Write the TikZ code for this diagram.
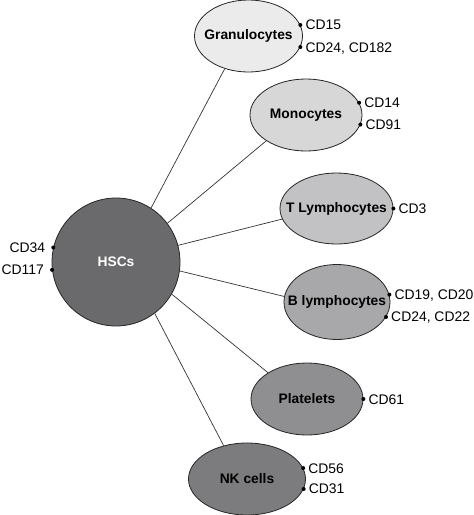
\documentclass[tikz,border=0pt]{standalone}
\usepackage{fontspec}
\setmainfont{Liberation Sans}
\usetikzlibrary{shapes.geometric}
\definecolor{cGran}{HTML}{EBEBEB}
\definecolor{cMono}{HTML}{D7D7D8}
\definecolor{cT}{HTML}{C2C2C4}
\definecolor{cB}{HTML}{A8A8AA}
\definecolor{cPlt}{HTML}{8F8F91}
\definecolor{cNK}{HTML}{7C7C7E}
\definecolor{cHSC}{HTML}{6A6A6C}
\begin{document}
\begin{tikzpicture}[x=1pt,y=-1pt,
  cell/.style={ellipse, draw=black!85, line width=0.8pt, inner sep=0pt},
  celltext/.style={font=\fontsize{13.8}{15}\selectfont\bfseries, text=black, inner sep=0pt},
  dot/.style={circle, fill=black, inner sep=0pt, minimum size=4pt},
  lbl/.style={font=\fontsize{13.9}{15}\selectfont, inner sep=0pt, anchor=base west, text=black},
  lbll/.style={lbl, anchor=base east},
  link/.style={draw=black!80, line width=0.7pt}]
\useasboundingbox (0,0) rectangle (474,515);

% HSC
\node[circle, draw=black!85, line width=0.8pt, fill=cHSC, minimum size=128pt, inner sep=0pt,
      label={[celltext, text=white]center:HSCs}] (hsc) at (116,262) {};

% cells
\node[cell, fill=cGran, minimum width=108pt, minimum height=72pt,
      label={[celltext]center:Granulocytes}] (gran) at (248.5,36) {};
\node[cell, fill=cMono, minimum width=112pt, minimum height=72pt,
      label={[celltext]center:Monocytes}] (mono) at (306,115) {};
\node[cell, fill=cT, minimum width=113pt, minimum height=71pt,
      label={[celltext]center:T Lymphocytes}] (tly) at (336.5,208.5) {};
\node[cell, fill=cB, minimum width=106pt, minimum height=75pt,
      label={[celltext]center:B lymphocytes}] (bly) at (337,302) {};
\node[cell, fill=cPlt, minimum width=112pt, minimum height=72pt,
      label={[celltext]center:Platelets}] (plt) at (307,399) {};
\node[cell, fill=cNK, minimum width=117pt, minimum height=72pt,
      label={[celltext]center:NK cells}] (nk) at (247,479) {};

% links
\draw[link] (hsc.57) -- (gran.234);
\draw[link] (hsc.37) -- (mono.213);
\draw[link] (hsc.15) -- (tly.191);
\draw[link] (hsc.-8) -- (bly.174);
\draw[link] (hsc.-30) -- (plt.146);
\draw[link] (hsc.-53) -- (nk.125);

% markers
\node[dot] (g1) at (gran.12) {};
\node[dot] (g2) at (gran.-12) {};
\node[dot] (m1) at (mono.13) {};
\node[dot] (m2) at (mono.-10.5) {};
\node[dot] (t1) at (tly.0) {};
\node[dot] (b1) at (bly.8) {};
\node[dot] (b2) at (bly.-17) {};
\node[dot] (p1) at (plt.0) {};
\node[dot] (n1) at (nk.11) {};
\node[dot] (n2) at (nk.-10) {};
\node[dot] (h1) at (hsc.167) {};
\node[dot] (h2) at (hsc.187) {};

\node[lbl] (lg1) at ([xshift=5pt,yshift=-5pt]g1.center) {CD15};
\node[lbl] (lg2) at ([xshift=5pt,yshift=-5pt]g2.center) {CD24, CD182};
\node[lbl] (lm1) at ([xshift=5pt,yshift=-5pt]m1.center) {CD14};
\node[lbl] (lm2) at ([xshift=5pt,yshift=-5pt]m2.center) {CD91};
\node[lbl] (lt1) at ([xshift=5pt,yshift=-5pt]t1.center) {CD3};
\node[lbl] (lb1) at ([xshift=5pt,yshift=-5pt]b1.center) {CD19, CD20};
\node[lbl] (lb2) at ([xshift=5pt,yshift=-5pt]b2.center) {CD24, CD22};
\node[lbl] (lp1) at ([xshift=5pt,yshift=-5pt]p1.center) {CD61};
\node[lbl] (ln1) at ([xshift=5pt,yshift=-5pt]n1.center) {CD56};
\node[lbl] (ln2) at ([xshift=5pt,yshift=-5pt]n2.center) {CD31};
\node[lbll] (lh1) at ([xshift=-8pt,yshift=-5pt]h1.center) {CD34};
\node[lbll] (lh2) at ([xshift=-8pt,yshift=-5pt]h2.center) {CD117};
\end{tikzpicture}
\end{document}
